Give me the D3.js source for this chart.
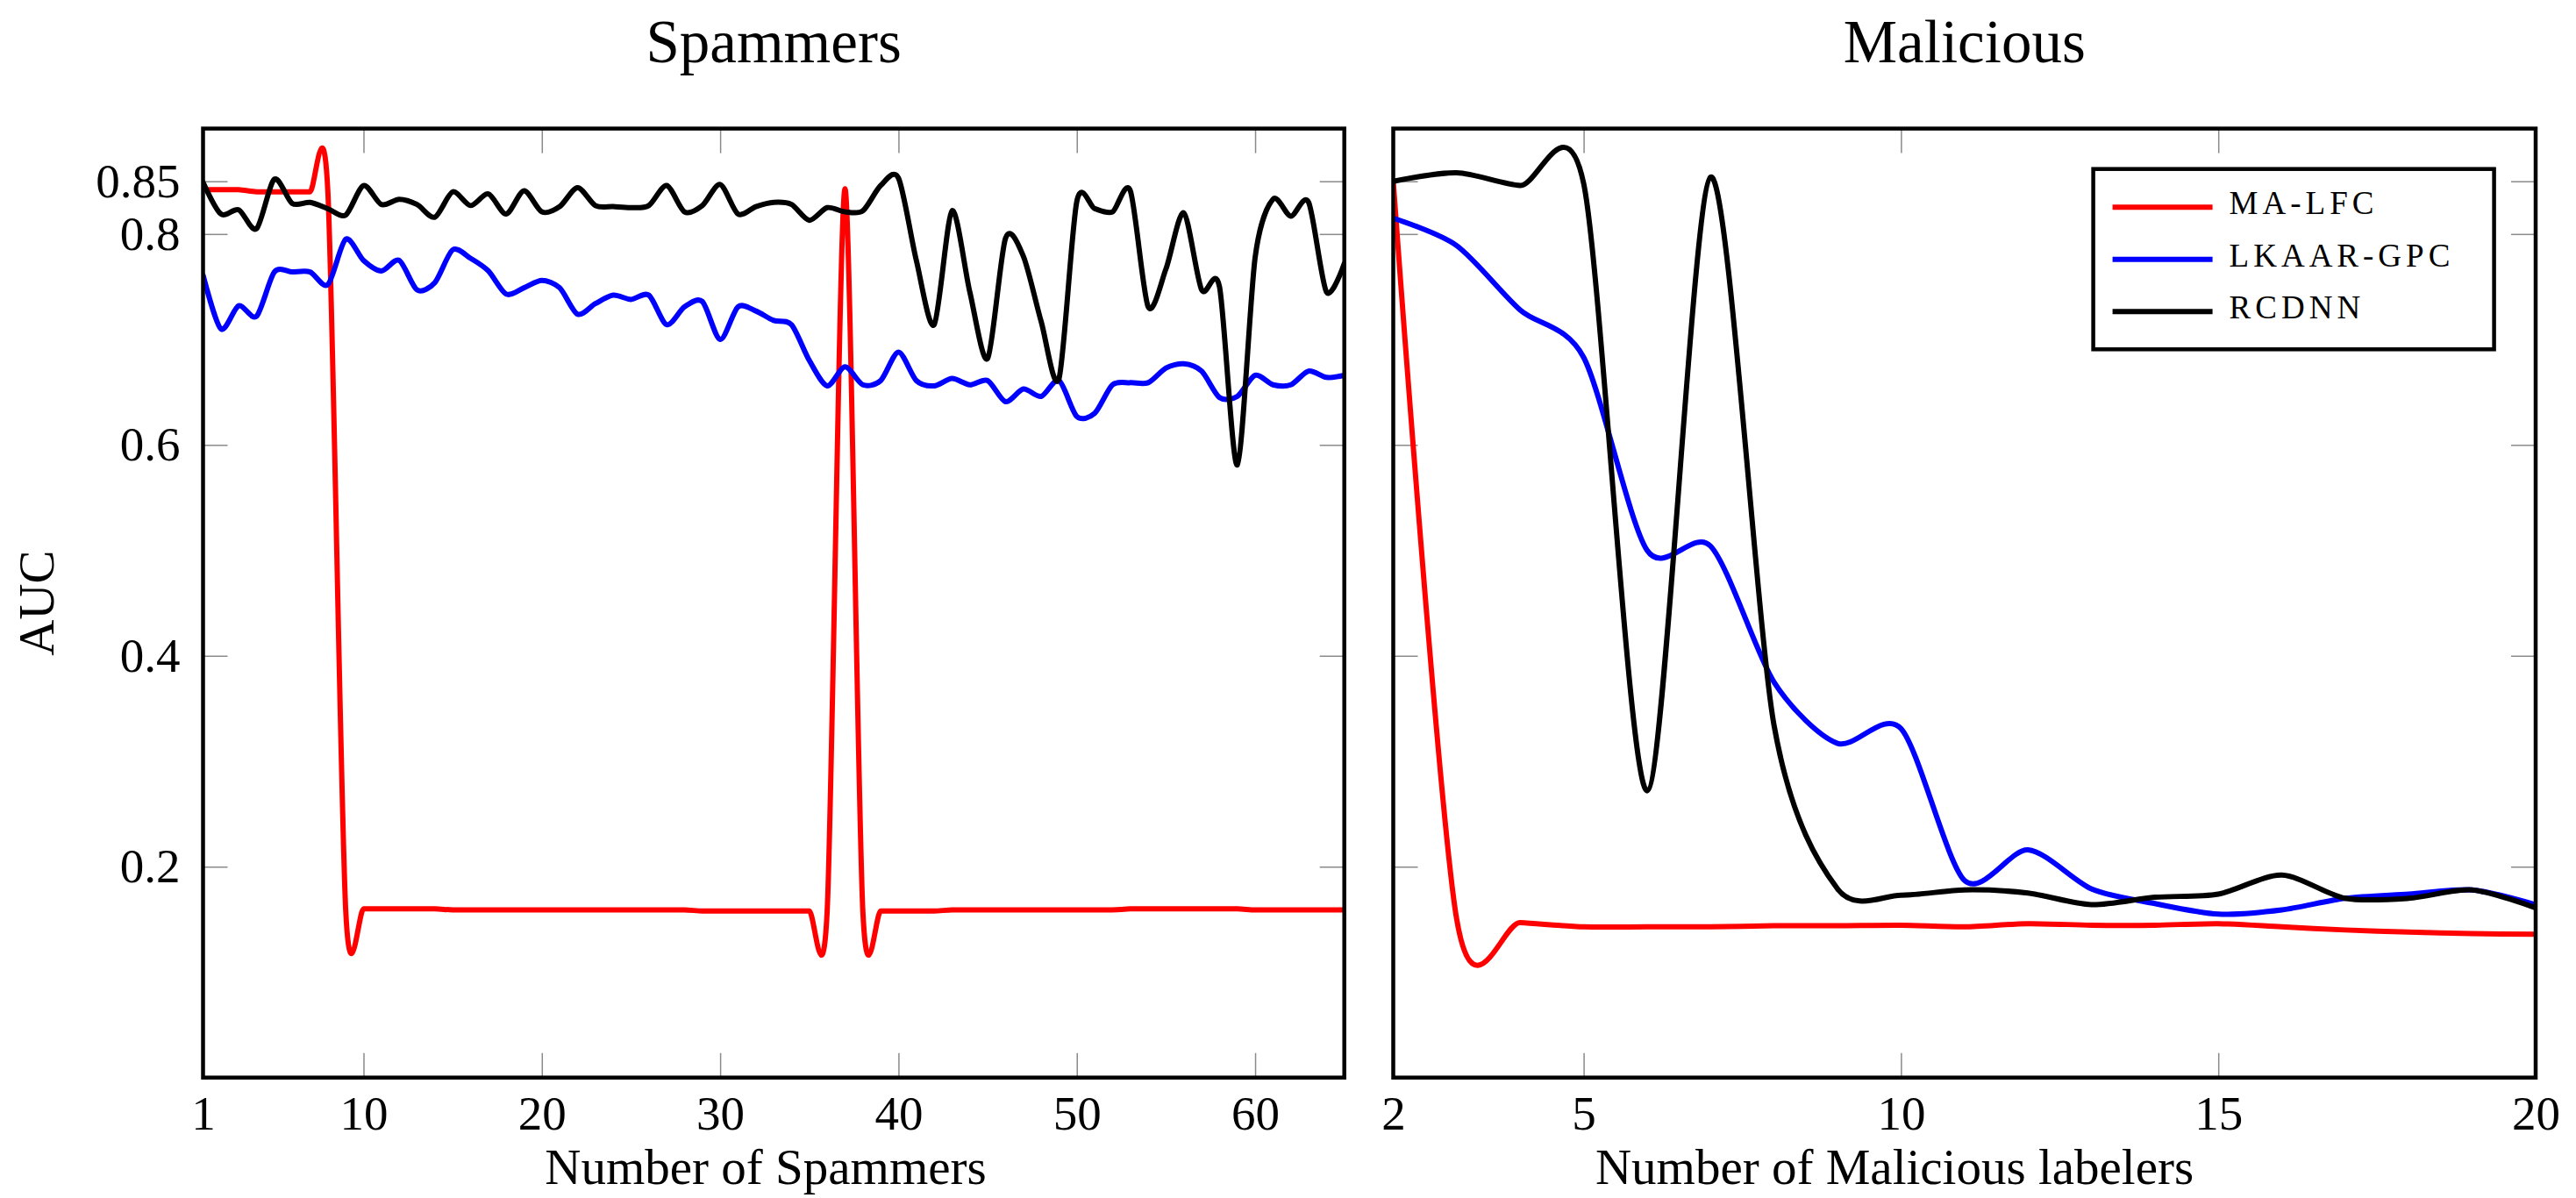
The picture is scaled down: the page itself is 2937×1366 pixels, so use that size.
<!DOCTYPE html>
<html>
<head>
<meta charset="utf-8">
<script src="https://cdn.jsdelivr.net/npm/d3@7"></script>
<style>
  body { margin: 0; background: #fff; }
  svg { display: block; font-family: "Liberation Serif", "DejaVu Serif", serif; }
</style>
</head>
<body>
<svg id="chart"></svg>
<script>
// ---- data: Spammers panel ----
const spamX = [1, 2, 3, 4, 5, 6, 7, 8, 9, 10, 11, 12, 13, 14, 15, 16, 17, 18, 19, 20,
  21, 22, 23, 24, 25, 26, 27, 28, 29, 30, 31, 32, 33, 34, 35, 36, 37, 38, 39, 40,
  41, 42, 43, 44, 45, 46, 47, 48, 49, 50, 51, 52, 53, 54, 55, 56, 57, 58, 59, 60,
  61, 62, 63, 64, 65];
const spamMALFC = [0.842, 0.842, 0.842, 0.840, 0.840, 0.840, 0.840, 0.840, 0.159, 0.160,
  0.160, 0.160, 0.160, 0.160, 0.159, 0.159, 0.159, 0.159, 0.159, 0.159,
  0.159, 0.159, 0.159, 0.159, 0.159, 0.159, 0.159, 0.159, 0.158, 0.158,
  0.158, 0.158, 0.158, 0.158, 0.158, 0.158, 0.843, 0.158, 0.158, 0.158,
  0.158, 0.158, 0.159, 0.159, 0.159, 0.159, 0.159, 0.159, 0.159, 0.159,
  0.159, 0.159, 0.160, 0.160, 0.160, 0.160, 0.160, 0.160, 0.160, 0.159,
  0.159, 0.159, 0.159, 0.159, 0.159];
const spamLKAAR = [0.761, 0.710, 0.732, 0.722, 0.764, 0.764, 0.764, 0.752, 0.795, 0.775,
  0.765, 0.775, 0.747, 0.754, 0.785, 0.777, 0.765, 0.743, 0.749, 0.756,
  0.749, 0.724, 0.734, 0.742, 0.738, 0.742, 0.714, 0.731, 0.736, 0.700,
  0.731, 0.727, 0.718, 0.714, 0.680, 0.656, 0.674, 0.657, 0.661, 0.688,
  0.661, 0.656, 0.663, 0.657, 0.661, 0.641, 0.653, 0.646, 0.661, 0.627,
  0.630, 0.657, 0.659, 0.659, 0.673, 0.677, 0.670, 0.645, 0.646, 0.666,
  0.657, 0.657, 0.670, 0.664, 0.666];
const spamRCDNN = [0.849, 0.819, 0.823, 0.805, 0.852, 0.829, 0.830, 0.824, 0.818, 0.846,
  0.828, 0.833, 0.828, 0.816, 0.840, 0.827, 0.838, 0.819, 0.841, 0.821,
  0.826, 0.844, 0.827, 0.826, 0.825, 0.827, 0.846, 0.821, 0.827, 0.847,
  0.819, 0.826, 0.830, 0.828, 0.813, 0.825, 0.821, 0.822, 0.846, 0.853,
  0.775, 0.714, 0.822, 0.745, 0.682, 0.796, 0.779, 0.717, 0.663, 0.831,
  0.824, 0.821, 0.841, 0.731, 0.767, 0.820, 0.747, 0.750, 0.581, 0.778,
  0.833, 0.817, 0.830, 0.745, 0.772];

// ---- data: Malicious panel ----
const malX = [2, 3, 4, 5, 6, 7, 8, 9, 10, 11, 12, 13, 14, 15, 16, 17, 18, 19, 20];
const malMALFC = [0.850, 0.150, 0.147, 0.143, 0.143, 0.143, 0.144, 0.144, 0.1445, 0.143,
  0.146, 0.1445, 0.1445, 0.146, 0.143, 0.140, 0.138, 0.1365, 0.136];
const malLKAAR = [0.815, 0.789, 0.728, 0.683, 0.500, 0.504, 0.375, 0.317, 0.331, 0.187,
  0.216, 0.179, 0.165, 0.155, 0.159, 0.170, 0.174, 0.178, 0.164];
const malRCDNN = [0.850, 0.858, 0.846, 0.848, 0.272, 0.854, 0.334, 0.179, 0.173, 0.178,
  0.175, 0.164, 0.171, 0.174, 0.192, 0.170, 0.170, 0.178, 0.161];

// ---- ticks / labels ----
const yTicks = [0.2, 0.4, 0.6, 0.8, 0.85];
const spamTicks = [1, 10, 20, 30, 40, 50, 60];
const malTicks = [2, 5, 10, 15, 20];
const seriesNames = ["MA-LFC", "LKAAR-GPC", "RCDNN"];
const seriesColors = ["#ff0000", "#0000ff", "#000000"];

const width = 2937;
const height = 1366;
const plotTop = 146.6;
const plotBottom = 1228.7;
const tickLen = 28;
const fontSize = 55;

const svg = d3.select("#chart").attr("width", width).attr("height", height);

const y = d3.scaleLinear().domain([0, 0.9]).range([plotBottom, plotTop]);

// pgfplots "smooth" (tension 0.55) ~ cardinal with control offset 0.1375
const smooth = d3.curveCardinal.tension(0.175);

function styleAxis(g, labels) {
  g.select(".domain").remove();
  g.attr("font-family", null).attr("font-size", null);
  g.selectAll(".tick line").attr("stroke", "#8a8a8a").attr("stroke-width", 1.5);
  g.selectAll(".tick text")
    .attr("font-size", fontSize)
    .attr("fill", "#000")
    .style("display", labels ? null : "none");
}

function drawPanel(cfg) {
  const x = d3.scaleLinear().domain(cfg.domain).range([cfg.left, cfg.right]);
  const panel = svg.append("g").attr("class", "panel");

  // axes (ticks point inward)
  panel.append("g")
    .attr("transform", `translate(0,${plotBottom})`)
    .call(d3.axisBottom(x).tickValues(cfg.ticks).tickSize(-tickLen).tickPadding(20).tickFormat(d3.format("d")))
    .call((g) => styleAxis(g, true));
  panel.append("g")
    .attr("transform", `translate(0,${plotTop})`)
    .call(d3.axisTop(x).tickValues(cfg.ticks).tickSize(-tickLen))
    .call((g) => styleAxis(g, false));
  panel.append("g")
    .attr("transform", `translate(${cfg.left},0)`)
    .call(d3.axisLeft(y).tickValues(yTicks).tickSize(-tickLen).tickPadding(26).tickFormat((d) => String(d)))
    .call((g) => styleAxis(g, cfg.showY));
  panel.append("g")
    .attr("transform", `translate(${cfg.right},0)`)
    .call(d3.axisRight(y).tickValues(yTicks).tickSize(-tickLen))
    .call((g) => styleAxis(g, false));

  // clip
  panel.append("clipPath").attr("id", cfg.id + "-clip")
    .append("rect")
    .attr("x", cfg.left).attr("y", plotTop)
    .attr("width", cfg.right - cfg.left).attr("height", plotBottom - plotTop);

  const line = d3.line()
    .x((d) => x(d[0]))
    .y((d) => y(d[1]))
    .curve(smooth);

  const lines = panel.append("g").attr("clip-path", `url(#${cfg.id}-clip)`);
  cfg.series.forEach((vals, i) => {
    lines.append("path")
      .datum(cfg.xs.map((v, j) => [v, vals[j]]))
      .attr("fill", "none")
      .attr("stroke", seriesColors[i])
      .attr("stroke-width", 6)
      .attr("stroke-linejoin", "round")
      .attr("stroke-linecap", "round")
      .attr("d", line);
  });

  // frame
  panel.append("rect")
    .attr("x", cfg.left).attr("y", plotTop)
    .attr("width", cfg.right - cfg.left).attr("height", plotBottom - plotTop)
    .attr("fill", "none").attr("stroke", "#000").attr("stroke-width", 4.5);

  // title and x label
  panel.append("text")
    .attr("x", (cfg.left + cfg.right) / 2).attr("y", 71)
    .attr("text-anchor", "middle").attr("font-size", 69)
    .text(cfg.title);
  panel.append("text")
    .attr("x", cfg.xlabelX).attr("y", 1350)
    .attr("text-anchor", "middle").attr("font-size", 57)
    .text(cfg.xlabel);

  return x;
}

drawPanel({
  id: "spam", left: 231.5, right: 1532.7, domain: [1, 65],
  xs: spamX, series: [spamMALFC, spamLKAAR, spamRCDNN],
  ticks: spamTicks, showY: true,
  title: "Spammers", xlabel: "Number of Spammers", xlabelX: 873
});

drawPanel({
  id: "mal", left: 1588.5, right: 2891, domain: [2, 20],
  xs: malX, series: [malMALFC, malLKAAR, malRCDNN],
  ticks: malTicks, showY: false,
  title: "Malicious", xlabel: "Number of Malicious labelers", xlabelX: 2160
});

// y label
svg.append("text")
  .attr("transform", `translate(61,${(plotTop + plotBottom) / 2}) rotate(-90)`)
  .attr("text-anchor", "middle").attr("font-size", 57)
  .text("AUC");

// legend
const legend = svg.append("g").attr("transform", "translate(2386.6,192.7)");
legend.append("rect")
  .attr("width", 457).attr("height", 205.6)
  .attr("fill", "#fff").attr("stroke", "#000").attr("stroke-width", 4.5);
seriesNames.forEach((name, i) => {
  const ly = 43.5 + i * 59.5;
  legend.append("line")
    .attr("x1", 22).attr("x2", 136).attr("y1", ly).attr("y2", ly)
    .attr("stroke", seriesColors[i]).attr("stroke-width", 6);
  legend.append("text")
    .attr("x", 155).attr("y", ly + 8)
    .attr("font-size", 37).attr("letter-spacing", 5)
    .text(name);
});
</script>
</body>
</html>
